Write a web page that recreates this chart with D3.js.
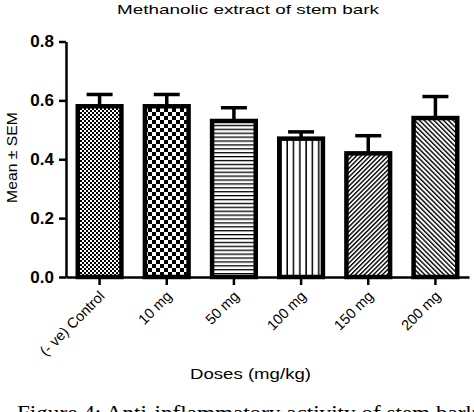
<!DOCTYPE html>
<html>
<head>
<meta charset="utf-8">
<script src="https://cdn.jsdelivr.net/npm/d3@7"></script>
<style>
  body { margin: 0; background: #fff; }
  svg { display: block; font-family: Arial, "Liberation Sans", sans-serif; }
</style>
</head>
<body>
<svg id="chart"></svg>
<script>
// Data
const categories = ["(- ve) Control", "10 mg", "50 mg", "100 mg", "150 mg", "200 mg"];
const means = [0.58, 0.58, 0.53, 0.47, 0.42, 0.54];
const sems = [0.04, 0.04, 0.045, 0.023, 0.06, 0.073];
const patterns = ["fineCheck", "coarseCheck", "hLines", "vLines", "diagUp", "diagDown"];
const yTicks = [0.0, 0.2, 0.4, 0.6, 0.8];

const width = 474, height = 412;
const svg = d3.select("#chart").attr("width", width).attr("height", height);

// Fill patterns
const defs = svg.append("defs");
function pattern(id, w, h) {
    return defs.append("pattern").attr("id", id)
        .attr("patternUnits", "userSpaceOnUse")
        .attr("width", w).attr("height", h);
}
let p = pattern("fineCheck", 4, 4);
p.append("rect").attr("width", 4).attr("height", 4).attr("fill", "#fff");
p.append("rect").attr("width", 2).attr("height", 2).attr("fill", "#000");
p.append("rect").attr("x", 2).attr("y", 2).attr("width", 2).attr("height", 2).attr("fill", "#000");

p = pattern("coarseCheck", 8, 8);
p.append("rect").attr("width", 8).attr("height", 8).attr("fill", "#fff");
p.append("rect").attr("width", 4).attr("height", 4).attr("fill", "#000");
p.append("rect").attr("x", 4).attr("y", 4).attr("width", 4).attr("height", 4).attr("fill", "#000");

p = pattern("hLines", 4, 3.9);
p.append("rect").attr("width", 4).attr("height", 3.9).attr("fill", "#fff");
p.append("rect").attr("width", 4).attr("height", 1.3).attr("fill", "#000");

p = pattern("vLines", 6.3, 4);
p.append("rect").attr("width", 6.3).attr("height", 4).attr("fill", "#fff");
p.append("rect").attr("x", 3).attr("width", 1.5).attr("height", 4).attr("fill", "#000");

p = pattern("diagUp", 3.2, 3.2).attr("patternTransform", "rotate(45)");
p.append("rect").attr("width", 3.2).attr("height", 3.2).attr("fill", "#fff");
p.append("rect").attr("width", 1.4).attr("height", 3.2).attr("fill", "#000");

p = pattern("diagDown", 3.4, 3.4).attr("patternTransform", "rotate(-45)");
p.append("rect").attr("width", 3.4).attr("height", 3.4).attr("fill", "#fff");
p.append("rect").attr("width", 1.4).attr("height", 3.4).attr("fill", "#000");

// Scales
const x = d3.scaleBand().domain(categories).range([66, 469]).paddingInner(0.35).paddingOuter(0.175);
const y = d3.scaleLinear().domain([0, 0.8]).range([277, 41.5]);

// Error bars (drawn under bars so the stem starts at the top edge)
const err = svg.append("g").attr("stroke", "#000");
categories.forEach((c, i) => {
    const cx = x(c) + x.bandwidth() / 2;
    err.append("line")
        .attr("x1", cx).attr("x2", cx)
        .attr("y1", y(means[i])).attr("y2", y(means[i] + sems[i]))
        .attr("stroke-width", 3.5);
    err.append("line")
        .attr("x1", cx - 13).attr("x2", cx + 13)
        .attr("y1", y(means[i] + sems[i])).attr("y2", y(means[i] + sems[i]))
        .attr("stroke-width", 3.5);
});

// Bars
svg.append("g").selectAll("rect")
    .data(categories)
    .join("rect")
    .attr("x", d => x(d))
    .attr("width", x.bandwidth())
    .attr("y", (d, i) => y(means[i]))
    .attr("height", (d, i) => y(0) - y(means[i]))
    .attr("fill", (d, i) => `url(#${patterns[i]})`)
    .attr("stroke", "#000")
    .attr("stroke-width", 4.5);

// Y axis
const yAxis = svg.append("g")
    .attr("transform", "translate(66,0)")
    .call(d3.axisLeft(y).tickValues(yTicks).tickFormat(d3.format(".1f")).tickSize(7).tickSizeOuter(0).tickPadding(5));
yAxis.select(".domain").attr("stroke-width", 2.5);
yAxis.selectAll(".tick line").attr("stroke-width", 2.5);
yAxis.selectAll(".tick text")
    .attr("font-size", 17).attr("font-weight", "bold")
    .attr("font-family", "Arial, 'Liberation Sans', sans-serif").attr("fill", "#000");

// X axis
const xAxis = svg.append("g")
    .attr("transform", `translate(0,${y(0)})`)
    .call(d3.axisBottom(x).tickSize(8).tickSizeOuter(0));
xAxis.select(".domain").attr("stroke-width", 2.5);
xAxis.selectAll(".tick line").attr("stroke-width", 2.5);
xAxis.selectAll(".tick text")
    .attr("font-size", 14.5)
    .attr("font-family", "Arial, 'Liberation Sans', sans-serif")
    .attr("fill", "#000")
    .attr("text-anchor", "end")
    .attr("dy", null)
    .attr("y", 0)
    .attr("transform", "translate(6,20) rotate(-45)");

// Titles
svg.append("text")
    .attr("x", 248).attr("y", 14)
    .attr("text-anchor", "middle")
    .attr("font-size", 13.5)
    .attr("textLength", 262).attr("lengthAdjust", "spacingAndGlyphs")
    .text("Methanolic extract of stem bark");

svg.append("text")
    .attr("transform", "translate(17,157.5) rotate(-90)")
    .attr("text-anchor", "middle")
    .attr("font-size", 14.5)
    .attr("textLength", 91).attr("lengthAdjust", "spacingAndGlyphs")
    .text("Mean ± SEM");

svg.append("text")
    .attr("x", 250.5).attr("y", 379)
    .attr("text-anchor", "middle")
    .attr("font-size", 15)
    .attr("textLength", 121).attr("lengthAdjust", "spacingAndGlyphs")
    .text("Doses (mg/kg)");

// Figure caption, cut off by the bottom edge as in the source
svg.append("text")
    .attr("x", 17).attr("y", 420)
    .attr("font-family", "'Liberation Serif', 'DejaVu Serif', serif")
    .attr("font-size", 20)
    .attr("textLength", 460).attr("lengthAdjust", "spacingAndGlyphs")
    .text("Figure 4: Anti-inflammatory activity of stem bark");
</script>
</body>
</html>
